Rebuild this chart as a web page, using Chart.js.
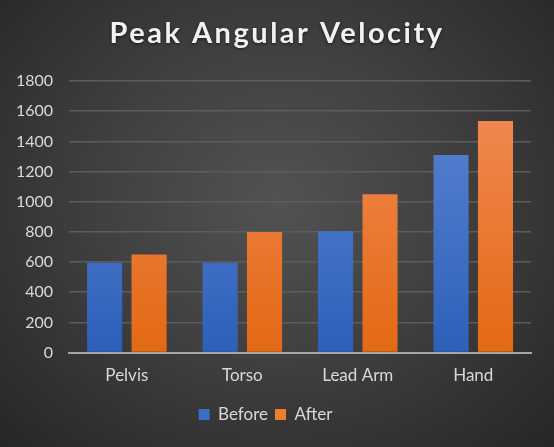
<!DOCTYPE html>
<html>
<head>
<meta charset="utf-8">
<script src="https://cdn.jsdelivr.net/npm/chart.js@4/dist/chart.umd.min.js"></script>
<style>
  html, body { margin: 0; padding: 0; }
  #wrap {
    width: 554px; height: 447px;
    background: radial-gradient(ellipse at 50% 45%, #525252 0%, #404040 45%, #262626 100%);
  }
</style>
</head>
<body>
<div id="wrap"><canvas id="velocityChart" width="554" height="447"></canvas></div>
<script>
const chartTitle = 'Peak Angular Velocity';
const categories = ['Pelvis', 'Torso', 'Lead Arm', 'Hand'];
const beforeValues = [595, 595, 805, 1310];
const afterValues = [650, 800, 1050, 1535];
const yTicks = [0, 200, 400, 600, 800, 1000, 1200, 1400, 1600, 1800];

function barGradient(topColor, bottomColor) {
    return function(context) {
        const area = context.chart.chartArea;
        if (!area) return bottomColor;
        const g = context.chart.ctx.createLinearGradient(0, area.top, 0, area.bottom);
        g.addColorStop(0, topColor);
        g.addColorStop(1, bottomColor);
        return g;
    };
}

// title drawn by hand so letters can be spaced out like the original
const spacedTitle = {
    id: 'spacedTitle',
    afterDraw(chart) {
        const ctx = chart.ctx;
        ctx.save();
        ctx.font = 'bold 29px Lato';
        ctx.letterSpacing = '2.5px';
        ctx.textAlign = 'center';
        ctx.textBaseline = 'alphabetic';
        ctx.shadowColor = 'rgba(0,0,0,0.6)';
        ctx.shadowBlur = 3;
        ctx.shadowOffsetY = 1;
        ctx.fillStyle = '#f2f2f2';
        ctx.fillText(chartTitle, 277, 43);
        ctx.restore();
    }
};

const ctx = document.getElementById('velocityChart').getContext('2d');
new Chart(ctx, {
    type: 'bar',
    data: {
        labels: categories,
        datasets: [
            {
                label: 'Before',
                data: beforeValues,
                backgroundColor: barGradient('#5f86d3', '#2d60ba'),
                borderWidth: 0
            },
            {
                label: 'After',
                data: afterValues,
                backgroundColor: barGradient('#f28c5a', '#e36913'),
                borderWidth: 0
            }
        ]
    },
    options: {
        responsive: false,
        animation: false,
        categoryPercentage: 0.77,
        barPercentage: 0.79,
        layout: { padding: { top: 81, right: 23, left: 0, bottom: 14 } },
        plugins: {
            legend: {
                position: 'bottom',
                labels: {
                    color: '#d9d9d9',
                    font: { family: 'Lato', size: 17 },
                    boxWidth: 11,
                    boxHeight: 11,
                    padding: 7,
                    generateLabels(chart) {
                        const solid = ['#3d6ec7', '#ed7d31'];
                        return chart.data.datasets.map((ds, i) => ({
                            text: ds.label,
                            fillStyle: solid[i],
                            strokeStyle: solid[i],
                            lineWidth: 0,
                            fontColor: '#d9d9d9',
                            datasetIndex: i
                        }));
                    }
                }
            },
            title: { display: false },
            tooltip: { enabled: false }
        },
        scales: {
            x: {
                grid: { display: false, drawTicks: false },
                border: { display: true, color: '#a6a6a6', width: 2 },
                ticks: {
                    color: '#d9d9d9',
                    font: { family: 'Lato', size: 17 },
                    padding: 13
                }
            },
            y: {
                min: 0,
                max: 1800,
                afterBuildTicks(axis) {
                    axis.ticks = yTicks.map(v => ({ value: v }));
                },
                grid: {
                    color: '#5c5c5c',
                    lineWidth: 1.5,
                    drawTicks: false
                },
                border: { display: false },
                ticks: {
                    color: '#d9d9d9',
                    font: { family: 'Lato', size: 16 },
                    padding: 16,
                    callback: v => String(v)
                }
            }
        }
    },
    plugins: [spacedTitle]
});
</script>
</body>
</html>
